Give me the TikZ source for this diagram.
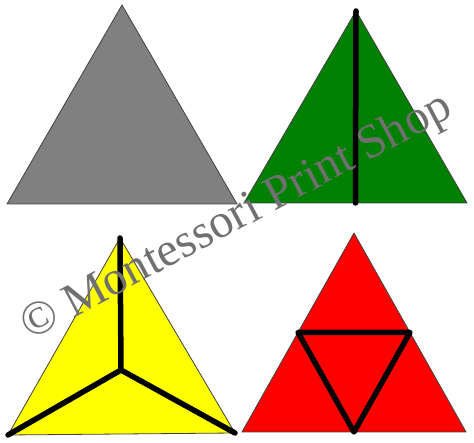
\documentclass[tikz,border=0pt]{standalone}
\usepackage{fontspec}
\setmainfont{Liberation Serif}
\usetikzlibrary{calc}

\definecolor{pieceGray}{HTML}{808080}
\definecolor{pieceGreen}{HTML}{008000}
\definecolor{pieceYellow}{HTML}{FFFF00}
\definecolor{pieceRed}{HTML}{FF0000}
\definecolor{markGray}{HTML}{707070}

\begin{document}
\begin{tikzpicture}[
            x = 1pt, y = -1pt, % pixel-like units, y down
            line join = round
        ]

        \tikzstyle{piece}=[
            draw = black!75,
            line width = 0.8pt
        ]
        \tikzstyle{cut}=[
            draw = black,
            line width = 5.5pt,
            line cap = round
        ]
        \tikzstyle{watermark}=[
            text = markGray,
            font = \fontsize{48}{52}\selectfont,
            rotate = 28
        ]

        \useasboundingbox (0,0) rectangle (474,443);

        % corners of the four pieces
        \coordinate (a1) at (122,5);
        \coordinate (a2) at (7,204);
        \coordinate (a3) at (237,204);

        \coordinate (b1) at (356,11);
        \coordinate (b2) at (244,203);
        \coordinate (b3) at (467,203);
        \coordinate (bm) at ($(b2)!0.5!(b3)$);

        \coordinate (c1) at (120,238);
        \coordinate (c2) at (8,435);
        \coordinate (c3) at (235,433);
        \coordinate (cm) at (121,370);

        \coordinate (d1) at (354,233);
        \coordinate (d2) at (242,432);
        \coordinate (d3) at (466,432);
        \coordinate (d12) at ($(d1)!0.5!(d2)$);
        \coordinate (d13) at ($(d1)!0.5!(d3)$);
        \coordinate (d23) at ($(d2)!0.5!(d3)$);

        \filldraw[piece, fill = pieceGray] (a1) -- (a2) -- (a3) -- cycle;
        \filldraw[piece, fill = pieceGreen] (b1) -- (b2) -- (b3) -- cycle;
        \filldraw[piece, fill = pieceYellow] (c1) -- (c2) -- (c3) -- cycle;
        \filldraw[piece, fill = pieceRed] (d1) -- (d2) -- (d3) -- cycle;

        \draw[cut] (b1) -- (bm);
        \draw[cut] (c1) -- (cm) (c2) -- (cm) -- (c3);
        \draw[cut] (d12) -- (d13) -- (d23) -- cycle;

        \node[watermark] (wm) at (237,218) {© Montessori Print Shop};
    \end{tikzpicture}
\end{document}
